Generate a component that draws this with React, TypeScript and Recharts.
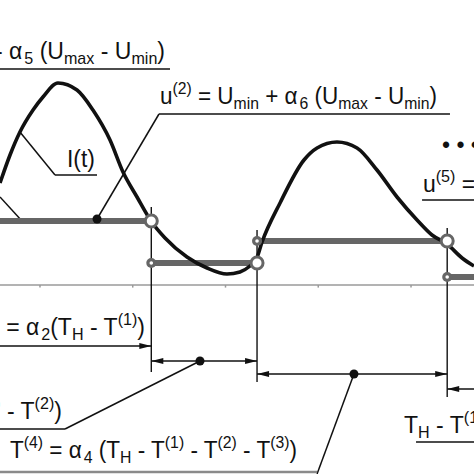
import { ComposedChart, Line, XAxis, YAxis, ReferenceLine, ReferenceDot } from "recharts";

// time in tick units (ticks at 0..4), value in scale units (0 = time axis)
const curveT = [-0.431, -0.323, -0.216, -0.075, 0.032, 0.194, 0.399, 0.571, 0.755, 0.895, 1.046, 1.197, 1.348, 1.585, 1.801, 2.016, 2.156, 2.264, 2.329, 2.394, 2.588, 2.846, 2.987, 3.202, 3.418, 3.633, 3.849, 4.065, 4.226, 4.388, 4.55, 4.679];
const curveI = [51, 65, 76.5, 87.5, 94, 101, 97.5, 87.5, 72.5, 56.5, 44, 32, 23.5, 14, 8.5, 5.5, 6.5, 9.5, 12.5, 21.5, 41, 62.5, 68.5, 71.5, 68.5, 57.5, 44, 32.5, 25, 20.5, 13.5, 9.5];

// switching instants and the control levels u(k)
const switchT = [1.2, 2.34, 4.39];
const levels = [32, 11, 22, 4];
const tickT = [0, 1, 2, 3, 4];

const T_MIN = -0.431;
const T_MAX = 4.679;

const INK = "#111111";
const GRAY = "#666666";
const AXIS = "#9a9a9a";
const FONT = "'Liberation Sans', Arial, Helvetica, sans-serif";

const curveData = curveT.map((t, i) => ({ t, v: curveI[i] }));
const bounds = [T_MIN, ...switchT, T_MAX];
const stepSegments = levels.map((u, i) => [
  { t: bounds[i], v: u },
  { t: bounds[i + 1], v: u },
]);

// dimension lines below the axis
const dims = [
  { v: -30.5, from: T_MIN, to: switchT[0], heads: ["right"] },
  { v: -38, from: switchT[0], to: switchT[1], heads: ["left", "right"] },
  { v: -44.5, from: switchT[1], to: switchT[2], heads: ["left", "right"] },
  { v: -52, from: switchT[2], to: T_MAX, heads: ["left"] },
];
const extensions = [
  { t: switchT[0], top: 39, bottom: -43.5 },
  { t: switchT[1], top: 27.5, bottom: -48.5 },
  { t: switchT[2], top: 28.5, bottom: -56 },
];

// leader lines / underlines as polylines
const leaders: [number, number][][] = [
  [[-0.216, 76.5], [0.162, 55], [0.615, 55]],
  [[T_MIN, 44], [-0.194, 32]],
  [[0.615, 33], [1.283, 85.5], [4.42, 85.5]],
  [[T_MIN, 108], [1.402, 108]],
  [[4.119, 42.5], [T_MAX, 42.5]],
  [[1.725, -38], [0.27, -72], [T_MIN, -72]],
  [[3.385, -44.5], [2.987, -94.5]],
  [[4.054, -78.5], [T_MAX, -78.5]],
];
const leaderDots: [number, number][] = [[0.615, 33], [1.725, -38], [3.385, -44.5]];

const labels = [
  { t: 1.348, v: 113, text: "u^{(1)} = U_{max} - α_{5} (U_{max} - U_{min})", anchor: "end" },
  { t: 1.294, v: 90.5, text: "u^{(2)} = U_{min} + α_{6} (U_{max} - U_{min})", anchor: "start", width: 277 },
  { t: 0.291, v: 59, text: "I(t)", anchor: "start", width: 28 },
  { t: 4.334, v: 66, text: "• • •", anchor: "start" },
  { t: 4.129, v: 46.5, text: "u^{(5)} = U_{max} - α_{9} (U_{max} - U_{min})", anchor: "start" },
  { t: 1.132, v: -25, text: "T^{(2)} = α_{2}(T_{H} - T^{(1)})", anchor: "end" },
  { t: 0.237, v: -67, text: "T^{(3)} = α_{3} (T_{H} - T^{(1)} - T^{(2)})", anchor: "end" },
  { t: 3.925, v: -74, text: "T_{H} - T^{(1)} - T^{(2)} - T^{(3)} - T^{(4)}", anchor: "start" },
  { t: -0.323, v: -86.5, text: "T^{(4)} = α_{4} (T_{H} - T^{(1)} - T^{(2)} - T^{(3)})", anchor: "start", width: 287 },
];

type Piece = { s: string; k: "n" | "sup" | "sub" };
function parse(src: string): Piece[] {
  const out: Piece[] = [];
  let buf = "";
  let i = 0;
  while (i < src.length) {
    const c = src[i];
    if ((c === "^" || c === "_") && src[i + 1] === "{") {
      if (buf) out.push({ s: buf, k: "n" });
      buf = "";
      const end = src.indexOf("}", i);
      out.push({ s: src.slice(i + 2, end), k: c === "^" ? "sup" : "sub" });
      i = end + 1;
    } else {
      buf += c;
      i++;
    }
  }
  if (buf) out.push({ s: buf, k: "n" });
  return out;
}

function MathText(props: any) {
  const { cx, cy, text, anchor, width } = props;
  const size = 23;
  let cur = 0;
  const pieces = parse(text);
  return (
    <text
      x={cx}
      y={cy}
      fontSize={size}
      fontFamily={FONT}
      fill={INK}
      textAnchor={anchor}
      textLength={width}
      lengthAdjust={width ? "spacingAndGlyphs" : undefined}
      style={{ whiteSpace: "pre" }}
    >
      {pieces.map((p, i) => {
        const off = p.k === "sup" ? -0.42 * size : p.k === "sub" ? 0.2 * size : 0;
        const dy = off - cur;
        cur = off;
        // a little air between alpha and its index
        const afterAlpha = i > 0 && pieces[i - 1].s.endsWith("α");
        return (
          <tspan key={i} dy={dy} dx={afterAlpha ? 2 : undefined} fontSize={p.k === "n" ? size : size * 0.7}>
            {p.s}
          </tspan>
        );
      })}
    </text>
  );
}

function Arrowhead(props: any) {
  const { cx, cy, dir } = props;
  const s = dir === "right" ? -1 : 1;
  return <path d={`M${cx},${cy} L${cx + s * 12},${cy - 3} L${cx + s * 12},${cy + 3} Z`} fill={INK} />;
}

function SmallMark(props: any) {
  const { cx, cy } = props;
  return (
    <g>
      <circle cx={cx} cy={cy} r={5} fill={GRAY} />
      <circle cx={cx} cy={cy} r={1.8} fill="#fff" />
    </g>
  );
}

export default function App() {
  return (
    <div style={{ position: "absolute", left: 0, top: 0, width: 474, height: 474, background: "#fff" }}>
      <ComposedChart width={474} height={474} margin={{ top: 0, right: 0, bottom: 0, left: 0 }}>
        <XAxis type="number" dataKey="t" domain={[T_MIN, T_MAX]} hide allowDataOverflow />
        <YAxis type="number" dataKey="v" domain={[-94.5, 142.5]} hide allowDataOverflow />

        <ReferenceLine y={0} stroke={AXIS} strokeWidth={1.3} />
        {tickT.map((t) => (
          <ReferenceLine key={`tk${t}`} segment={[{ x: t, y: 0 }, { x: t, y: -1.3 }]} stroke={AXIS} strokeWidth={1.5} />
        ))}

        {extensions.map((e, i) => (
          <ReferenceLine key={`ex${i}`} segment={[{ x: e.t, y: e.top }, { x: e.t, y: e.bottom }]} stroke={INK} strokeWidth={1.4} />
        ))}
        {dims.map((d, i) => (
          <ReferenceLine key={`dm${i}`} segment={[{ x: d.from, y: d.v }, { x: d.to, y: d.v }]} stroke={INK} strokeWidth={1.5} />
        ))}
        {leaders.flatMap((pl, i) =>
          pl.slice(1).map((p, j) => (
            <ReferenceLine
              key={`ld${i}-${j}`}
              segment={[{ x: pl[j][0], y: pl[j][1] }, { x: p[0], y: p[1] }]}
              stroke={INK}
              strokeWidth={1.5}
            />
          ))
        )}
        <ReferenceLine segment={[{ x: T_MIN, y: -93.5 }, { x: 2.987, y: -93.5 }]} stroke="#8a8a8a" strokeWidth={2.5} />

        {stepSegments.map((seg, i) => (
          <Line
            key={`st${i}`}
            data={seg}
            dataKey="v"
            type="linear"
            stroke={GRAY}
            strokeWidth={6}
            strokeLinecap="butt"
            dot={false}
            activeDot={false}
            isAnimationActive={false}
          />
        ))}
        <Line
          data={curveData}
          dataKey="v"
          type="monotone"
          stroke={INK}
          strokeWidth={3.6}
          strokeLinecap="butt"
          dot={false}
          activeDot={false}
          isAnimationActive={false}
        />

        {switchT.map((t, i) => (
          <ReferenceDot key={`oc${i}`} x={t} y={levels[i]} r={6} fill="#fff" stroke={GRAY} strokeWidth={3} />
        ))}
        {switchT.map((t, i) => (
          <ReferenceDot key={`sm${i}`} x={t} y={levels[i + 1]} r={5} shape={(p: any) => <SmallMark {...p} />} />
        ))}
        {leaderDots.map(([t, v], i) => (
          <ReferenceDot key={`ldt${i}`} x={t} y={v} r={4.5} fill={INK} stroke="none" />
        ))}
        {dims.flatMap((d, i) =>
          d.heads.map((h) => (
            <ReferenceDot
              key={`ah${i}${h}`}
              x={h === "right" ? d.to : d.from}
              y={d.v}
              r={1}
              shape={(p: any) => <Arrowhead {...p} dir={h} />}
            />
          ))
        )}
        {labels.map((l, i) => (
          <ReferenceDot
            key={`lb${i}`}
            x={l.t}
            y={l.v}
            r={1}
            ifOverflow="visible"
            shape={(p: any) => <MathText {...p} text={l.text} anchor={l.anchor} width={l.width} />}
          />
        ))}
      </ComposedChart>
    </div>
  );
}
